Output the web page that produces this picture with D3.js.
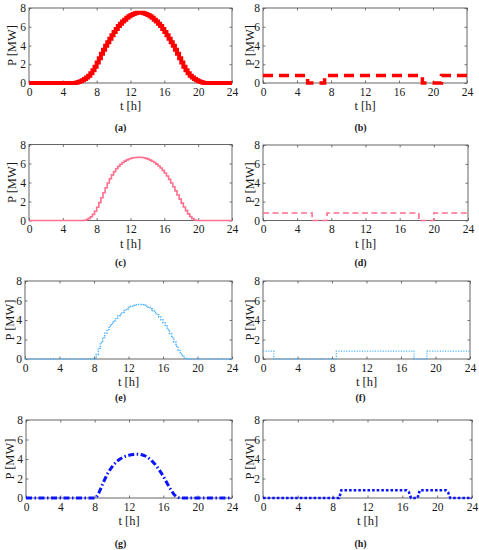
<!DOCTYPE html>
<html><head><meta charset="utf-8">
<script src="https://cdn.jsdelivr.net/npm/d3@7"></script>
<style>body{margin:0;background:#fff}svg text{font-family:"Liberation Serif","DejaVu Serif",serif;fill:#1a1a1a}</style>
</head><body>
<svg id="c" width="479" height="550"></svg>
<script>
// ---------- data ----------
const xTicks = [0, 4, 8, 12, 16, 20, 24];
const yTicks = [0, 2, 4, 6, 8];
const captions = ["(a)", "(b)", "(c)", "(d)", "(e)", "(f)", "(g)", "(h)"];
const stepHours = 0.25;   // sampling interval of the profiles (15 min)

// left column: power profiles, values every 15 min starting at the given hour (0 elsewhere)
const startA = 5.25;
const valsA = [0,0.04,0.10,0.18,0.29,0.42,0.58,0.78,1.04,1.35,1.74,2.18,2.65,3.12,3.55,3.97,4.35,4.72,5.10,5.45,5.77,6.07,6.32,6.55,6.76,6.95,7.11,7.25,7.36,7.44,7.49,7.50,
               7.49,7.44,7.36,7.25,7.11,6.95,6.76,6.55,6.32,6.07,5.77,5.45,5.10,4.72,4.35,3.97,3.55,3.12,2.65,2.18,1.74,1.35,1.04,0.78,0.58,0.42,0.29,0.18,0.10,0.04,0];
const startC = 6.25;
const valsC = [0,0.03,0.10,0.22,0.40,0.65,0.98,1.40,1.88,2.40,2.92,3.45,3.95,4.40,4.80,5.15,5.45,5.70,5.92,6.10,6.25,6.38,6.48,6.55,6.60,6.63,6.65,6.65,
               6.63,6.60,6.54,6.46,6.36,6.24,6.10,5.93,5.74,5.53,5.28,5.00,4.68,4.33,3.95,3.55,3.12,2.68,2.25,1.83,1.42,1.04,0.70,0.42,0.20,0.06,0];
const startE = 8.0;
const valsE = [0,0.45,1.10,1.70,2.20,2.65,3.02,3.35,3.65,3.92,4.18,4.40,4.60,4.80,4.98,5.15,5.30,5.42,5.51,5.57,5.60,5.60,5.57,5.51,5.42,5.30,5.15,4.97,4.77,4.55,4.30,4.02,3.72,3.38,3.02,2.62,2.20,1.75,1.30,0.88,0.52,0.25,0.08,0];
const startG = 8.0;
const valsG = [0,0.15,0.55,1.05,1.58,2.05,2.48,2.85,3.17,3.45,3.68,3.87,4.02,4.14,4.24,4.32,4.38,4.43,4.47,4.50,4.50,4.48,4.43,4.36,4.26,4.12,3.94,3.73,3.50,3.22,2.92,2.58,2.22,1.82,1.42,1.02,0.66,0.36,0.15,0.04,0];

// right column: on/off profiles given as breakpoints (hour, value)
const timesB = [0, 5.25, 7.25, 18.75, 21, 24];
const valsB  = [0.8, 0, 0.8, 0, 0.8, 0.8];
const timesD = [0, 5.75, 7.5, 18.25, 20, 24];
const valsD  = [0.8, 0, 0.8, 0, 0.8, 0.8];
const timesF = [0, 1.25, 8.5, 17.5, 19, 24];
const valsF  = [0.8, 0, 0.8, 0, 0.8, 0.8];
const timesH = [0, 8.75, 9.0, 16.5, 16.75, 17.0, 17.75, 18.0, 21.0, 21.25, 21.5, 24];
const valsH  = [0, 0, 0.8, 0.8, 0.6, 0, 0, 0.8, 0.8, 0.6, 0, 0];

// ---------- build series ----------
function profile(start, vals) {
  const pts = [];
  for (let k = 0; k <= 24 / stepHours; k++) {
    const t = k * stepHours;
    const idx = Math.round((t - start) / stepHours);
    pts.push([t, (idx >= 0 && idx < vals.length) ? vals[idx] : 0]);
  }
  return pts;
}
function pairs(ts, vs) { return ts.map((t, i) => [t, vs[i]]); }

const series = [
  profile(startA, valsA), pairs(timesB, valsB),
  profile(startC, valsC), pairs(timesD, valsD),
  profile(startE, valsE), pairs(timesF, valsF),
  profile(startG, valsG), pairs(timesH, valsH)
];

// ---------- layout & styles ----------
const layout = [
  {x0:29, x1:232, y0:8,     y1:83,    ly:12},
  {x0:263,x1:467, y0:8,     y1:83,    ly:250},
  {x0:29, x1:232, y0:144.5, y1:220.5, ly:12},
  {x0:263,x1:468, y0:145,   y1:220.5, ly:250},
  {x0:25, x1:232, y0:281,   y1:359,   ly:10},
  {x0:263,x1:470, y0:281,   y1:359,   ly:250},
  {x0:26, x1:232, y0:420,   y1:498,   ly:10},
  {x0:263,x1:472, y0:420,   y1:498,   ly:250}
];
const captionY = [127, 127, 262, 262, 397, 397, 543, 543];
const styles = [
  {c:"#ff0000", w:4,   d:null,            curve:d3.curveStepAfter},
  {c:"#ff0000", w:3.5, d:"10,6",          curve:d3.curveStepAfter},
  {c:"#ff6f8e", w:1.6, d:null,            curve:d3.curveStepAfter},
  {c:"#ff6f8e", w:1.6, d:"6,3.5",         curve:d3.curveStepAfter},
  {c:"#4db3ff", w:1.5, d:"1.3,1.2",       curve:d3.curveStepAfter},
  {c:"#4db3ff", w:1.3, d:"1.2,1.4",       curve:d3.curveStepAfter},
  {c:"#0a14ff", w:3,   d:"6,2.5,1.5,2.5", curve:d3.curveLinear},
  {c:"#0a14ff", w:2.6, d:"2.6,2",         curve:d3.curveLinear}
];

const svg = d3.select("#c");
const axisCol = "#555";

layout.forEach((p, i) => {
  const x = d3.scaleLinear().domain([0, 24]).range([p.x0, p.x1]);
  const y = d3.scaleLinear().domain([0, 8]).range([p.y1, p.y0]);
  const g = svg.append("g");

  const styleAxis = sel => {
    sel.select(".domain").remove();
    sel.selectAll(".tick line").attr("stroke", axisCol).attr("stroke-width", 0.8);
    sel.selectAll("text").attr("font-size", 11.5).attr("fill", "#1a1a1a")
       .attr("font-family", '"Liberation Serif","DejaVu Serif",serif');
  };

  g.append("g").attr("transform", `translate(0,${p.y1})`)
    .call(d3.axisBottom(x).tickValues(xTicks).tickSizeInner(-2.5).tickSizeOuter(0).tickPadding(4.5))
    .call(styleAxis);
  g.append("g").attr("transform", `translate(0,${p.y0})`)
    .call(d3.axisTop(x).tickValues(xTicks).tickSizeInner(-2.5).tickSizeOuter(0).tickFormat(""))
    .call(styleAxis);
  g.append("g").attr("transform", `translate(${p.x0},0)`)
    .call(d3.axisLeft(y).tickValues(yTicks).tickSizeInner(-2.5).tickSizeOuter(0).tickPadding(3))
    .call(styleAxis);
  g.append("g").attr("transform", `translate(${p.x1},0)`)
    .call(d3.axisRight(y).tickValues(yTicks).tickSizeInner(-2.5).tickSizeOuter(0).tickFormat(""))
    .call(styleAxis);

  g.append("rect").attr("x", p.x0).attr("y", p.y0)
    .attr("width", p.x1 - p.x0).attr("height", p.y1 - p.y0)
    .attr("fill", "none").attr("stroke", axisCol).attr("stroke-width", 0.9);

  const s = styles[i];
  const line = d3.line().x(d => x(d[0])).y(d => y(d[1])).curve(s.curve);
  const path = g.append("path").datum(series[i]).attr("d", line)
    .attr("fill", "none").attr("stroke", s.c).attr("stroke-width", s.w)
    .attr("stroke-linejoin", "miter").attr("stroke-linecap", "butt");
  if (s.d) path.attr("stroke-dasharray", s.d);

  g.append("text").attr("x", (p.x0 + p.x1) / 2).attr("y", p.y1 + 27)
    .attr("text-anchor", "middle").attr("font-size", 12.5).text("t [h]");
  g.append("text").attr("transform", `translate(${p.ly},${(p.y0 + p.y1) / 2}) rotate(-90)`)
    .attr("text-anchor", "middle").attr("dominant-baseline", "central")
    .attr("font-size", 12.5).text("P [MW]");
  g.append("text").attr("x", i % 2 === 0 ? 120.5 : 360.5).attr("y", captionY[i] + 3.5)
    .attr("text-anchor", "middle").attr("font-size", 10).attr("font-weight", "bold")
    .text(captions[i]);
});
</script>
</body></html>
